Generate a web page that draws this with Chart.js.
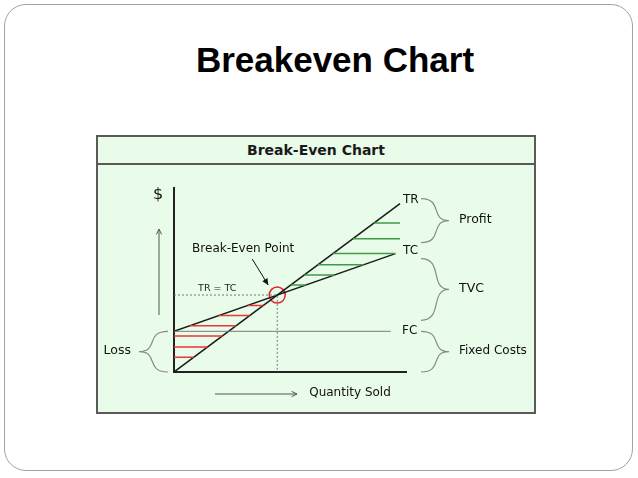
<!DOCTYPE html>
<html>
<head>
<meta charset="utf-8">
<script src="https://cdn.jsdelivr.net/npm/chart.js@4.4.1/dist/chart.umd.min.js"></script>
<style>
  body { margin: 0; background: #fff; }
  #page { position: relative; width: 638px; height: 478px; overflow: hidden; }
  #slide { position: absolute; left: 4px; top: 4px; width: 629px; height: 467px;
    border: 1px solid #a3a3a3; border-radius: 22px; box-sizing: border-box; }
  #title { position: absolute; left: 0; top: 40px; width: 670px; text-align: center;
    font: bold 35px "Liberation Sans", Arial, sans-serif; line-height: 40px; color: #000; }
  #box { position: absolute; left: 96px; top: 135px; width: 440px; height: 279px;
    background: #e9fbe9; border: 2px solid #5a5a5a; box-sizing: border-box; }
  #boxhead { height: 26px; border-bottom: 2px solid #5a5a5a; text-align: center;
    font: bold 14px "DejaVu Sans", sans-serif; line-height: 27px; color: #1a1a1a; }
  #chart { position: absolute; left: 0; top: 0; }
</style>
</head>
<body>
<div id="page">
  <div id="slide"></div>
  <div id="title">Breakeven Chart</div>
  <div id="box"><div id="boxhead">Break-Even Chart</div></div>
  <canvas id="chart" width="638" height="478"></canvas>
</div>
<script>
// axis ranges (quantity vs $)
const xRange = [0, 10];
const yRange = [0, 100];

// lines: [start, end]
const trX = [0, 9.7];
const trY = [0, 91];
const tcX = [0, 9.5];
const tcY = [22, 64];
const fcX = [0, 9.3];
const fcY = [22, 22];

// break-even point
const beX = 4.43;
const beY = 41.6;

// hatch levels ($)
const lossLevels = [36, 30.5, 25, 19.5, 13.5, 8];
const profitLevels = [80.5, 72, 64, 58, 52.5, 47];

const lineLabels = ['TR', 'TC', 'FC'];
const braceLabels = ['Profit', 'TVC', 'Fixed Costs'];

const trSlope = (trY[1] - trY[0]) / (trX[1] - trX[0]);
const tcSlope = (tcY[1] - tcY[0]) / (tcX[1] - tcX[0]);
const onTR = y => (y - trY[0]) / trSlope;
const onTC = y => (y - tcY[0]) / tcSlope;

function hatch(levels, loss) {
  const pts = [];
  levels.forEach(y => {
    let a, b;
    if (loss) {
      a = Math.max(0, onTC(y));
      b = onTR(y);
    } else {
      a = onTR(y);
      b = Math.min(onTC(y), trX[1]);
    }
    pts.push({ x: a, y: y }, { x: b, y: y }, { x: null, y: null });
  });
  return pts;
}

const pair = (xs, ys) => xs.map((x, i) => ({ x: x, y: ys[i] }));

const FONT = '"DejaVu Sans", sans-serif';

function brace(ctx, x, top, bottom, w) {
  // curly brace, tip at x + w (negative w opens the other way)
  const m = (top + bottom) / 2;
  ctx.beginPath();
  ctx.moveTo(x, top);
  ctx.bezierCurveTo(x + w * 0.8, top, x + w * 0.3, m, x + w, m);
  ctx.bezierCurveTo(x + w * 0.3, m, x + w * 0.8, bottom, x, bottom);
  ctx.stroke();
}

function arrow(ctx, x1, y1, x2, y2, filled) {
  const ang = Math.atan2(y2 - y1, x2 - x1);
  const L = filled ? 7 : 6;
  ctx.beginPath();
  ctx.moveTo(x1, y1);
  ctx.lineTo(x2, y2);
  ctx.stroke();
  ctx.beginPath();
  ctx.moveTo(x2 - L * Math.cos(ang - 0.45), y2 - L * Math.sin(ang - 0.45));
  ctx.lineTo(x2, y2);
  ctx.lineTo(x2 - L * Math.cos(ang + 0.45), y2 - L * Math.sin(ang + 0.45));
  if (filled) { ctx.closePath(); ctx.fill(); } else { ctx.stroke(); }
}

const decor = {
  id: 'decor',
  beforeDatasetsDraw(chart) {
    const { ctx, scales: { x, y } } = chart;
    ctx.save();
    ctx.strokeStyle = '#222';
    ctx.lineWidth = 2;
    ctx.beginPath();
    ctx.moveTo(x.getPixelForValue(xRange[0]), y.getPixelForValue(yRange[1]));
    ctx.lineTo(x.getPixelForValue(xRange[0]), y.getPixelForValue(yRange[0]));
    ctx.lineTo(x.getPixelForValue(xRange[1]), y.getPixelForValue(yRange[0]));
    ctx.stroke();
    ctx.restore();
  },
  afterDatasetsDraw(chart) {
    const { ctx, scales: { x, y } } = chart;
    const x0 = x.getPixelForValue(0);
    const y0 = y.getPixelForValue(0);
    const yTR = y.getPixelForValue(trY[1]);
    const yTC = y.getPixelForValue(tcY[1]);
    const yFC = y.getPixelForValue(fcY[1]);
    const lx = x.getPixelForValue(trX[1]) + 3;
    ctx.save();
    ctx.fillStyle = '#111';
    ctx.textBaseline = 'middle';

    // line end labels
    ctx.font = '12px ' + FONT;
    ctx.textAlign = 'left';
    ctx.fillText(lineLabels[0], lx, yTR - 4);
    ctx.fillText(lineLabels[1], lx, yTC - 3);
    ctx.fillText(lineLabels[2], lx - 1, yFC);

    // braces on the right
    ctx.strokeStyle = '#8a8a8a';
    ctx.lineWidth = 1.2;
    const bx = lx + 18;
    const spans = [[yTR - 5, yTC - 11], [yTC + 5, yFC - 11], [yFC, y0]];
    spans.forEach((s, i) => {
      brace(ctx, bx, s[0], s[1], 28);
      ctx.font = (i === 2 ? '12px ' : '12.5px ') + FONT;
      ctx.fillText(braceLabels[i], bx + 38, (s[0] + s[1]) / 2 - 1);
    });

    // loss brace on the left
    brace(ctx, x0 - 6, yFC, y0, -29);
    ctx.textAlign = 'right';
    ctx.font = '12.5px ' + FONT;
    ctx.fillText('Loss', x0 - 43, (yFC + y0) / 2 - 1);

    // axis titles and arrows
    ctx.textAlign = 'center';
    ctx.font = '16px ' + FONT;
    ctx.fillText('$', x0 - 16, y.getPixelForValue(yRange[1]) + 8);
    ctx.font = '12px ' + FONT;
    ctx.fillText('Quantity Sold', x0 + 176, y0 + 21);
    ctx.strokeStyle = '#555';
    ctx.fillStyle = '#555';
    ctx.lineWidth = 1;
    arrow(ctx, x0 - 15, y0 - 57, x0 - 15, y0 - 143, false);
    arrow(ctx, x0 + 41, y0 + 22, x0 + 123, y0 + 22, false);

    // break-even annotation
    const bpx = x.getPixelForValue(beX);
    const bpy = y.getPixelForValue(beY);
    ctx.fillStyle = '#111';
    ctx.strokeStyle = '#111';
    ctx.fillText('Break-Even Point', bpx - 34, bpy - 46);
    arrow(ctx, bpx - 25, bpy - 36, bpx - 9, bpy - 10, true);
    ctx.font = '9.5px ' + FONT;
    ctx.fillStyle = '#222';
    ctx.fillText('TR = TC', bpx - 60, bpy - 7);
    ctx.restore();
  }
};

new Chart(document.getElementById('chart'), {
  type: 'scatter',
  data: {
    datasets: [
      { label: 'Loss', data: hatch(lossLevels, true), showLine: true, borderColor: '#e8373a', borderWidth: 1.5, pointRadius: 0, spanGaps: false },
      { label: 'Profit', data: hatch(profitLevels, false), showLine: true, borderColor: '#3f9b48', borderWidth: 1.5, pointRadius: 0, spanGaps: false },
      { label: 'FC', data: pair(fcX, fcY), showLine: true, borderColor: '#7a7a7a', borderWidth: 1, pointRadius: 0 },
      { label: 'guide', data: [{ x: 0, y: beY }, { x: beX, y: beY }, { x: beX, y: 0 }], showLine: true, borderColor: '#777', borderWidth: 1, borderDash: [2, 2], pointRadius: 0 },
      { label: 'TR', data: pair(trX, trY), showLine: true, borderColor: '#1a1a1a', borderWidth: 1.5, pointRadius: 0 },
      { label: 'TC', data: pair(tcX, tcY), showLine: true, borderColor: '#1a1a1a', borderWidth: 1.5, pointRadius: 0 },
      { label: 'Break-Even Point', data: [{ x: beX, y: beY }], pointRadius: 8, pointBorderWidth: 1.5, pointBorderColor: '#e0262b', pointBackgroundColor: 'rgba(0,0,0,0)' }
    ]
  },
  options: {
    responsive: false,
    animation: false,
    layout: { padding: { left: 174, top: 187, right: 231, bottom: 106 } },
    scales: {
      x: { type: 'linear', display: false, min: xRange[0], max: xRange[1] },
      y: { type: 'linear', display: false, min: yRange[0], max: yRange[1] }
    },
    plugins: { legend: { display: false }, tooltip: { enabled: false } }
  },
  plugins: [decor]
});
</script>
</body>
</html>
